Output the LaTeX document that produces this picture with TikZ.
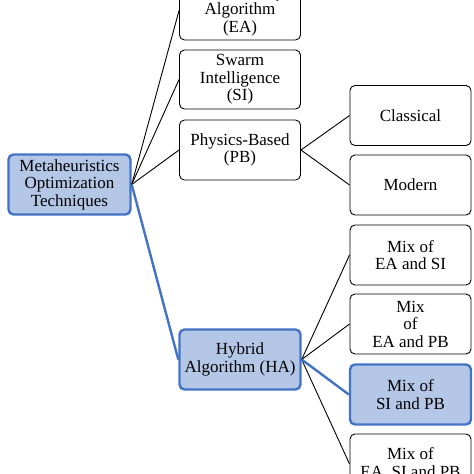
\documentclass[tikz,border=0pt]{standalone}
\usepackage{fontspec}
\setmainfont{Liberation Serif}
\usepackage{xcolor}
\usetikzlibrary{positioning,calc}
\definecolor{hafill}{HTML}{B4C7E7}
\definecolor{haline}{HTML}{4472C4}
\tikzset{
  box/.style={draw=black,line width=0.9pt,rounded corners=5pt,fill=white,align=center,
    minimum width=121pt,minimum height=60pt,inner sep=0pt,
    font=\fontsize{17}{17.5}\selectfont},
  hibox/.style={box,draw=haline,line width=2.4pt,fill=hafill},
  link/.style={draw=black,line width=0.9pt},
  hilink/.style={draw=haline,line width=2.4pt}
}

\begin{document}
\begin{tikzpicture}[x=1pt,y=-1pt]
\useasboundingbox (0,0) rectangle (474,474);
\begin{scope}
\clip (0,0) rectangle (474,474);
% first level
\node[hibox,minimum width=122pt] (meta) at (69.5,184.5) {Metaheuristics\\Optimization\\Techniques};
\node[box,minimum height=59pt] (ea) at (240,10.5) {Evolutionary\\Algorithm\\(EA)};
\node[box,minimum height=59pt] (si) at (240,79.5) {Swarm\\Intelligence\\(SI)};
\node[box] (pb) at (240,150) {Physics-Based\\(PB)};
\node[hibox] (ha) at (240,359.5) {Hybrid\\Algorithm (HA)};
% physics-based branch
\node[box] (classic) at (410.5,115.5) {Classical};
\node[box] (modern) at (410.5,185) {Modern};
% hybrid branch
\node[box] (easi) at (410.5,255) {Mix of\\EA and SI};
\node[box] (eapb) at (410.5,324) {Mix\\of\\EA and PB};
\node[hibox] (sipb) at (410.5,394.5) {Mix of\\SI and PB};
\node[box] (all) at (410.5,464) {Mix of\\EA, SI and PB};
% connectors
\foreach \t in {ea,si,pb} \draw[link] (meta.east) -- (\t.west);
\draw[hilink] (meta.east) -- (ha.west);
\foreach \t in {classic,modern} \draw[link] (pb.east) -- (\t.west);
\foreach \t in {easi,eapb,all} \draw[link] (ha.east) -- (\t.west);
\draw[hilink] (ha.east) -- (sipb.west);
\end{scope}
\end{tikzpicture}
\end{document}
